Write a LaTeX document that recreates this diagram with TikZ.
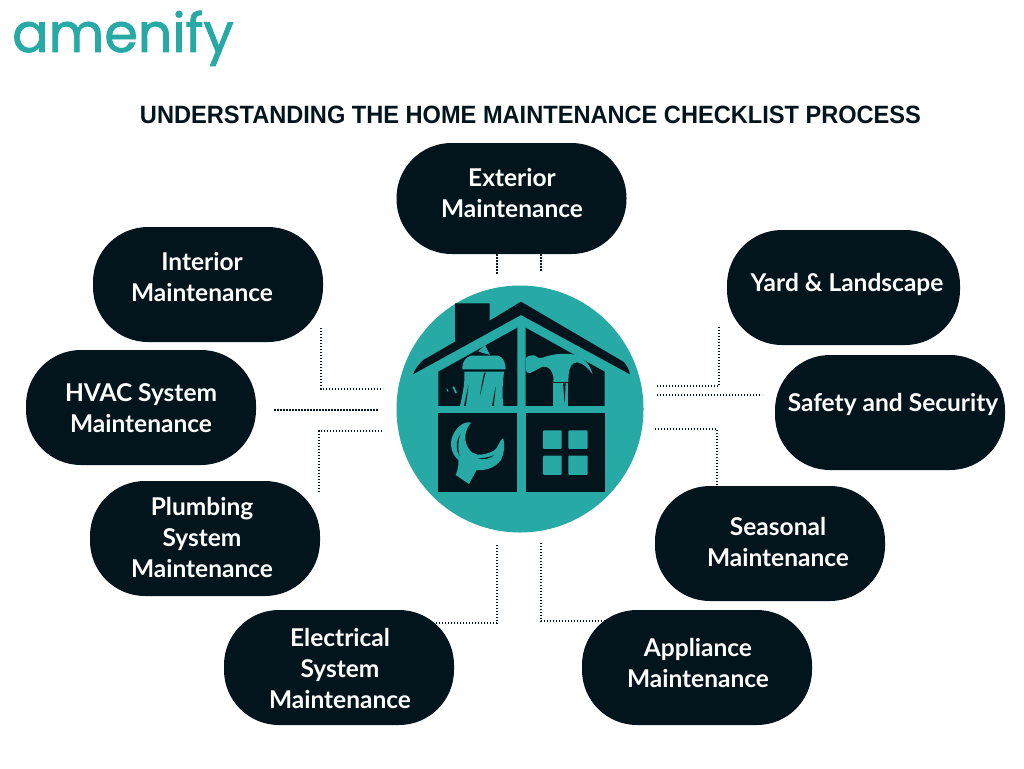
\documentclass[tikz,border=0pt]{standalone}
\usepackage{fontspec}
\setmainfont{Lato}
\newfontfamily\logofont{Poppins}
\newfontfamily\titlefont[FakeStretch=0.944]{Liberation Sans}
\definecolor{ink}{HTML}{02141C}
\definecolor{teal1}{HTML}{27A9A5}
\tikzset{
 pill/.style={fill=ink,rounded corners=55pt,minimum width=230pt,minimum height=115pt,inner sep=0pt},
 pilltext/.style={text=white,font=\fontsize{24.5}{31}\selectfont\bfseries,align=center,inner sep=0pt},
 dots/.style={draw=ink,line width=1.7pt,dash pattern=on 1.3pt off 1.7pt}
}
\begin{document}
\begin{tikzpicture}[x=1pt,y=-1pt]
\useasboundingbox (0,0) rectangle (1024,768);
\node[text=teal1,font=\logofont\fontsize{54}{54}\selectfont,anchor=base west,inner sep=0pt,draw=none] (logo) at (12,52) {\special{pdf:code 2 Tr 0.8 w}amenify\special{pdf:code 0 Tr}};
\node[text=ink,font=\titlefont\fontsize{25}{30}\selectfont\bfseries,anchor=base,inner sep=0pt] (title) at (530.5,123) {UNDERSTANDING THE HOME MAINTENANCE CHECKLIST PROCESS};

\node[pill,minimum height=111pt] (ext) at (511.5,198.5) {};
\node[pill] (int) at (208,284.5) {};
\node[pill] (hvac) at (141,407.5) {};
\node[pill] (plumb) at (205,538.5) {};
\node[pill] (elec) at (339,667.5) {};
\node[pill] (appl) at (697,667.5) {};
\node[pill] (seas) at (770,543.5) {};
\node[pill] (safe) at (890,412.5) {};
\node[pill,minimum width=233pt] (yard) at (843.5,287.5) {};

\node[pilltext] (t1) at (512,193) {Exterior\\Maintenance};
\node[pilltext] (t2) at (202,277) {Interior\\Maintenance};
\node[pilltext] (t3) at (141,408) {HVAC System\\Maintenance};
\node[pilltext] (t4) at (202,537) {Plumbing\\System\\Maintenance};
\node[pilltext] (t5) at (340,668) {Electrical\\System\\Maintenance};
\node[pilltext] (t6) at (698,663) {Appliance\\Maintenance};
\node[pilltext] (t7) at (778,542) {Seasonal\\Maintenance};
\node[pilltext] (t8) at (893,404) {Safety and Security};
\node[pilltext] (t9) at (847,284) {Yard \& Landscape};

\node[circle,fill=teal1,minimum size=247pt,inner sep=0pt] (hub) at (520,409) {};

% connectors
\coordinate (a1) at (497,275); \coordinate (a2) at (541,272);
\draw[dots] (ext.south -| a1) -- (a1);
\draw[dots] (ext.south -| a2) -- (a2);
\coordinate (b) at (383,389);
\draw[dots] (321,328) -- (321,389) -- (b);
\coordinate (c) at (379,410);
\draw[dots] (hvac.east |- c) ++(18,0) -- (c);
\coordinate (d) at (381,431);
\draw[dots] (318.7,492) -- (318.7,431) -- (d);
\coordinate (e) at (497,545);
\draw[dots] (e) -- (497,623) -- (434,623);
\coordinate (f) at (541,543);
\draw[dots] (f) -- (541,621) -- (605,621);
\coordinate (g) at (655,429);
\draw[dots] (g) -- (717,429) -- (seas.north -| 717,0);
\coordinate (h) at (657,395);
\draw[dots] (h) -- (762,395);
\coordinate (i) at (657,386);
\draw[dots] (i) -- (719,386) -- (719,326);

% house icon, in zoom-crop coordinates
\begin{scope}[shift={(390,280)},x=0.3333pt,y=-0.3333pt]
\fill[ink] (69,283) .. controls (78,262) and (90,248) .. (100,240) -- (195,185) -- (195,70) -- (299,70) -- (299,122) -- (393,65) -- (700,245) .. controls (710,255) and (717,268) .. (720,283) -- (393,105) -- cycle;
\fill[ink] (145,378) -- (145,275) -- (382,143) -- (382,378) -- cycle;
\fill[ink] (407,378) -- (407,143) -- (644,275) -- (644,378) -- cycle;
\fill[ink] (145,400) rectangle (382,635);
\fill[ink] (407,400) rectangle (644,635);
\foreach \xa/\ya/\xb/\yb in {459/451/515/507,535/451/593/507,459/527/515/585,535/527/593/585}
  \fill[teal1,rounded corners=1pt] (\xa,\ya) rectangle (\xb,\yb);
% brush (offset 135,165 from crop)
\begin{scope}[shift={(135,165)}]
\fill[teal1] (130,50) -- (150,30) -- (165,60) -- cycle;
\fill[teal1] (82,103) .. controls (80,85) and (90,66) .. (108,62) -- (190,62) .. controls (205,66) and (212,85) .. (212,103) -- cycle;
\fill[teal1] (88,110) -- (207,110) .. controls (204,140) and (200,170) .. (205,213) -- (75,213) .. controls (82,180) and (90,150) .. (88,110) -- cycle;
\fill[ink] (148,113) .. controls (142,135) and (138,160) .. (135,182) .. controls (141,160) and (146,135) .. (152,113) -- cycle;
\fill[ink] (182,155) .. controls (178,175) and (174,195) .. (171,213) -- (176,213) .. controls (178,195) and (181,175) .. (182,155) -- cycle;
\fill[ink] (100,150) .. controls (95,175) and (91,195) .. (87,213) -- (92,213) .. controls (95,195) and (98,175) .. (100,150) -- cycle;
\fill[teal1] (34,162) -- (37,161) -- (41,170) -- (38,170) -- cycle;
\fill[teal1] (52,156) -- (57,154) -- (66,174) -- (61,175) -- cycle;
\end{scope}
% hammer (offset 390,165 from crop)
\begin{scope}[shift={(390,165)}]
\fill[teal1] (18,68) .. controls (28,60) and (42,58) .. (50,65) .. controls (55,70) and (60,72) .. (68,68)
 .. controls (100,55) and (150,52) .. (175,63) .. controls (198,75) and (212,95) .. (218,118)
 .. controls (205,100) and (190,85) .. (172,82) .. controls (155,82) and (148,98) .. (146,118) -- (145,141) -- (100,141) -- (100,125)
 .. controls (96,105) and (85,93) .. (70,95) .. controls (55,98) and (48,108) .. (30,114) .. controls (22,116) and (18,112) .. (18,100) -- cycle;
\fill[ink] (58,103) .. controls (70,93) and (85,96) .. (92,116) .. controls (84,104) and (72,99) .. (58,103) -- cycle;
\fill[teal1] (100,143) -- (143,143) -- (143,213) -- (100,213) -- cycle;
\fill[ink] (129,143) -- (137,143) -- (134,205) -- cycle;
\end{scope}
% hand (offset 135,390 from crop)
\begin{scope}[shift={(135,390)}]
\fill[teal1] (108,38) .. controls (85,32) and (60,55) .. (50,85) .. controls (44,110) and (52,135) .. (70,150) .. controls (72,165) and (68,180) .. (62,195) -- (102,222) -- (125,180) .. controls (150,182) and (180,175) .. (198,150) .. controls (208,130) and (210,105) .. (205,85) .. controls (192,88) and (192,115) .. (175,123) .. controls (155,132) and (130,140) .. (112,128) .. controls (92,112) and (78,75) .. (108,38) -- cycle;
\fill[ink] (76,72) .. controls (62,95) and (62,120) .. (74,138) .. controls (68,118) and (68,95) .. (76,72) -- cycle;
\fill[ink] (128,144) .. controls (145,152) and (165,146) .. (178,135) .. controls (165,141) and (145,146) .. (128,144) -- cycle;
\end{scope}
\end{scope}
\end{tikzpicture}
\end{document}
